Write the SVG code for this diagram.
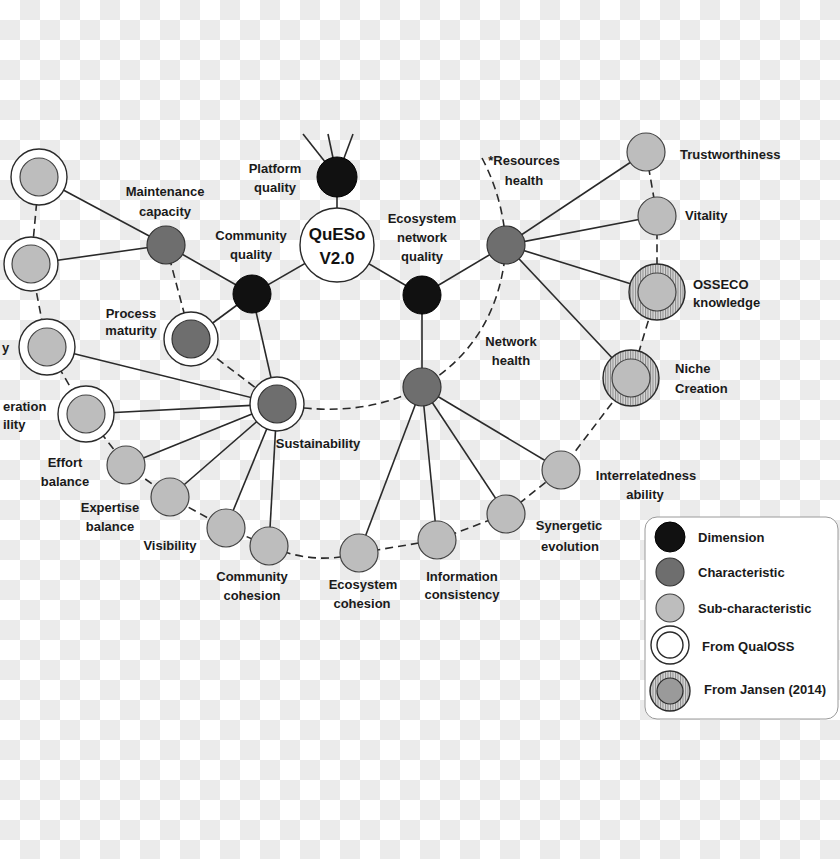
<svg xmlns="http://www.w3.org/2000/svg" width="840" height="859" viewBox="0 0 840 859">
<defs>
<pattern id="checker" patternUnits="userSpaceOnUse" width="40" height="40">
<rect width="40" height="40" fill="#ffffff"/>
<rect x="20" y="0" width="20" height="20" fill="#ebebeb"/>
<rect x="0" y="20" width="20" height="20" fill="#ebebeb"/>
</pattern>
<pattern id="hatch" patternUnits="userSpaceOnUse" width="2.5" height="2.5">
<rect width="2.5" height="2.5" fill="#d6d6d6"/>
<rect width="1" height="2.5" fill="#8a8a8a"/>
</pattern>
<style>
.t{font-family:"Liberation Sans",Arial,sans-serif;font-weight:bold;font-size:13px;fill:#1a1a1a}
.m{text-anchor:middle}
.big{font-size:17px;fill:#111}
.ln{stroke:#2a2a2a;stroke-width:1.6;fill:none}
.ds{stroke:#2a2a2a;stroke-width:1.6;fill:none;stroke-dasharray:8 5}
.dim{fill:#111;stroke:#000;stroke-width:1}
.chr{fill:#6e6e6e;stroke:#333;stroke-width:1.2}
.sub{fill:#bdbdbd;stroke:#444;stroke-width:1.2}
.qo{fill:#fff;stroke:#2a2a2a;stroke-width:1.4}
.ja{fill:url(#hatch);stroke:#2a2a2a;stroke-width:1.4}
</style>
</defs>
<rect width="840" height="859" fill="url(#checker)"/>

<g id="connectors">
<line class="ln" x1="303" y1="134" x2="337" y2="177"/>
<line class="ln" x1="328" y1="134" x2="337" y2="177"/>
<line class="ln" x1="353" y1="134" x2="337" y2="177"/>
<line class="ln" x1="337" y1="177" x2="337" y2="245"/>
<line class="ln" x1="337" y1="245" x2="252" y2="294"/>
<line class="ln" x1="337" y1="245" x2="422" y2="295"/>
<line class="ln" x1="252" y1="294" x2="166" y2="245"/>
<line class="ln" x1="252" y1="294" x2="191" y2="339"/>
<line class="ln" x1="252" y1="294" x2="277" y2="404"/>
<line class="ln" x1="166" y1="245" x2="39" y2="177"/>
<line class="ln" x1="166" y1="245" x2="31" y2="264"/>
<line class="ln" x1="277" y1="404" x2="47" y2="347"/>
<line class="ln" x1="277" y1="404" x2="86" y2="414"/>
<line class="ln" x1="277" y1="404" x2="126" y2="465"/>
<line class="ln" x1="277" y1="404" x2="170" y2="497"/>
<line class="ln" x1="277" y1="404" x2="226" y2="528"/>
<line class="ln" x1="277" y1="404" x2="269" y2="546"/>
<line class="ln" x1="422" y1="295" x2="506" y2="245"/>
<line class="ln" x1="422" y1="295" x2="422" y2="387"/>
<line class="ln" x1="506" y1="245" x2="646" y2="152"/>
<line class="ln" x1="506" y1="245" x2="657" y2="216"/>
<line class="ln" x1="506" y1="245" x2="657" y2="292"/>
<line class="ln" x1="506" y1="245" x2="631" y2="378"/>
<line class="ln" x1="422" y1="387" x2="359" y2="553"/>
<line class="ln" x1="422" y1="387" x2="437" y2="540"/>
<line class="ln" x1="422" y1="387" x2="506" y2="514"/>
<line class="ln" x1="422" y1="387" x2="561" y2="470"/>
<path class="ds" d="M 39,177 L 31,264 L 47,347 L 86,414 L 126,465 L 170,497 L 226,528 L 269,546 Q 314,566 359,553 L 437,540 L 506,514 L 561,470 L 631,378 L 657,292 L 657,216 L 646,152"/>
<path class="ds" d="M 166,245 L 191,339 L 277,404"/>
<path class="ds" d="M 482,158 Q 503,198 506,245 Q 500,340 422,387 Q 360,420 277,404"/>
</g>

<g id="queso">
<circle class="qo" cx="337" cy="245" r="37"/>
<text class="t m big" x="337" y="240">QuESo</text>
<text class="t m big" x="337" y="264">V2.0</text>
</g>
<g id="platform-quality">
<circle class="dim" cx="337" cy="177" r="20"/>
<text class="t m" x="275" y="173">Platform</text>
<text class="t m" x="275" y="192">quality</text>
</g>
<g id="community-quality">
<circle class="dim" cx="252" cy="294" r="19"/>
<text class="t m" x="251" y="240">Community</text>
<text class="t m" x="251" y="259">quality</text>
</g>
<g id="ecosystem-network-quality">
<circle class="dim" cx="422" cy="295" r="19"/>
<text class="t m" x="422" y="223">Ecosystem</text>
<text class="t m" x="422" y="242">network</text>
<text class="t m" x="422" y="261">quality</text>
</g>
<g id="maintenance-capacity">
<circle class="chr" cx="166" cy="245" r="19"/>
<text class="t m" x="165" y="196">Maintenance</text>
<text class="t m" x="165" y="216">capacity</text>
</g>
<g id="process-maturity">
<circle class="qo" cx="191" cy="339" r="27"/>
<circle class="chr" cx="191" cy="339" r="19"/>
<text class="t m" x="131" y="318">Process</text>
<text class="t m" x="131" y="335">maturity</text>
</g>
<g id="sustainability">
<circle class="qo" cx="277" cy="404" r="27"/>
<circle class="chr" cx="277" cy="404" r="19"/>
<text class="t m" x="318" y="448">Sustainability</text>
</g>
<g id="resources-health">
<circle class="chr" cx="506" cy="245" r="19"/>
<text class="t m" x="524" y="165">*Resources</text>
<text class="t m" x="524" y="185">health</text>
</g>
<g id="network-health">
<circle class="chr" cx="422" cy="387" r="19"/>
<text class="t m" x="511" y="346">Network</text>
<text class="t m" x="511" y="365">health</text>
</g>
<g id="left-a">
<circle class="qo" cx="39" cy="177" r="28"/>
<circle class="sub" cx="39" cy="177" r="19"/>
</g>
<g id="left-b">
<circle class="qo" cx="31" cy="264" r="27"/>
<circle class="sub" cx="31" cy="264" r="19"/>
</g>
<g id="left-c">
<circle class="qo" cx="47" cy="347" r="28"/>
<circle class="sub" cx="47" cy="347" r="19"/>
<text class="t" x="2" y="352">y</text>
</g>
<g id="left-d">
<circle class="qo" cx="86" cy="414" r="28"/>
<circle class="sub" cx="86" cy="414" r="19"/>
<text class="t" x="3" y="411">eration</text>
<text class="t" x="3" y="429">ility</text>
</g>
<g id="effort-balance">
<circle class="sub" cx="126" cy="465" r="19"/>
<text class="t m" x="65" y="467">Effort</text>
<text class="t m" x="65" y="486">balance</text>
</g>
<g id="expertise-balance">
<circle class="sub" cx="170" cy="497" r="19"/>
<text class="t m" x="110" y="512">Expertise</text>
<text class="t m" x="110" y="531">balance</text>
</g>
<g id="visibility">
<circle class="sub" cx="226" cy="528" r="19"/>
<text class="t m" x="170" y="550">Visibility</text>
</g>
<g id="community-cohesion">
<circle class="sub" cx="269" cy="546" r="19"/>
<text class="t m" x="252" y="581">Community</text>
<text class="t m" x="252" y="600">cohesion</text>
</g>
<g id="ecosystem-cohesion">
<circle class="sub" cx="359" cy="553" r="19"/>
<text class="t m" x="363" y="589">Ecosystem</text>
<text class="t m" x="362" y="608">cohesion</text>
</g>
<g id="information-consistency">
<circle class="sub" cx="437" cy="540" r="19"/>
<text class="t m" x="462" y="581">Information</text>
<text class="t m" x="462" y="599">consistency</text>
</g>
<g id="synergetic-evolution">
<circle class="sub" cx="506" cy="514" r="19"/>
<text class="t m" x="569" y="530">Synergetic</text>
<text class="t m" x="570" y="551">evolution</text>
</g>
<g id="interrelatedness-ability">
<circle class="sub" cx="561" cy="470" r="19"/>
<text class="t m" x="646" y="480">Interrelatedness</text>
<text class="t m" x="645" y="499">ability</text>
</g>
<g id="trustworthiness">
<circle class="sub" cx="646" cy="152" r="19"/>
<text class="t" x="680" y="159">Trustworthiness</text>
</g>
<g id="vitality">
<circle class="sub" cx="657" cy="216" r="19"/>
<text class="t" x="685" y="220">Vitality</text>
</g>
<g id="osseco-knowledge">
<circle class="ja" cx="657" cy="292" r="28"/>
<circle class="sub" cx="657" cy="292" r="19"/>
<text class="t" x="693" y="289">OSSECO</text>
<text class="t" x="693" y="307">knowledge</text>
</g>
<g id="niche-creation">
<circle class="ja" cx="631" cy="378" r="28"/>
<circle class="sub" cx="631" cy="378" r="19"/>
<text class="t" x="675" y="373">Niche</text>
<text class="t" x="675" y="393">Creation</text>
</g>

<g id="legend">
<rect x="645" y="517" width="193" height="202" rx="12" ry="12" fill="#fff" stroke="#9a9a9a" stroke-width="1"/>
<circle class="dim" cx="670" cy="537" r="15"/>
<text class="t" x="698" y="542">Dimension</text>
<circle class="chr" cx="670" cy="572" r="14"/>
<text class="t" x="698" y="577">Characteristic</text>
<circle class="sub" cx="670" cy="608" r="14"/>
<text class="t" x="698" y="613">Sub-characteristic</text>
<circle class="qo" cx="670" cy="645" r="19"/>
<circle class="qo" cx="670" cy="645" r="13"/>
<text class="t" x="702" y="651">From QualOSS</text>
<circle class="ja" cx="670" cy="691" r="20"/>
<circle cx="670" cy="691" r="13" fill="#9a9a9a" stroke="#2a2a2a" stroke-width="1.2"/>
<text class="t" x="704" y="694">From Jansen (2014)</text>
</g>
</svg>
